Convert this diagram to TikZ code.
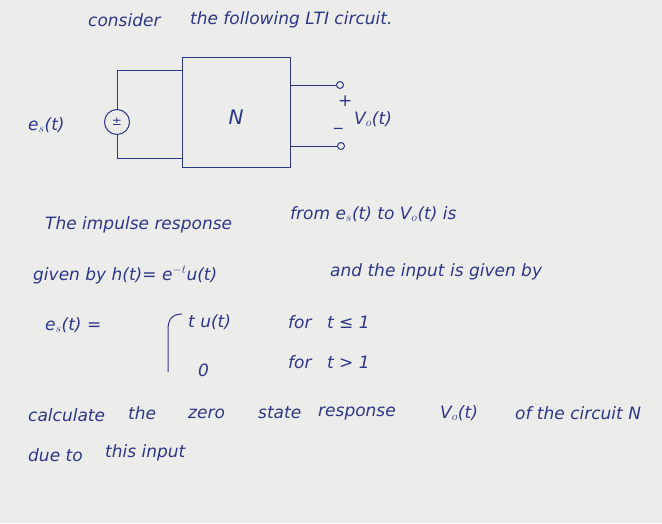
\documentclass[tikz,border=0pt]{standalone}
\usepackage{fontspec}
\setmainfont{DejaVu Sans}
\begin{document}
\begin{tikzpicture}[x=1pt,y=-1pt,
  ink/.style={draw=inkc,line width=1pt},
  txt/.style={text=inkc,anchor=west,inner sep=0pt,font=\fontsize{17}{19}\selectfont\itshape},
  term/.style={circle,draw=inkc,line width=1pt,inner sep=0pt,minimum size=7pt}]
\definecolor{inkc}{RGB}{45,55,135}
\definecolor{bg}{RGB}{236,236,234}
\fill[bg] (0,0) rectangle (662,523);
\useasboundingbox (0,0) rectangle (662,523);
\node[txt] (t0) at (88,20) {consider};
\node[txt] (t0b) at (190,20) {the following LTI circuit.};
% circuit
\node[draw=inkc,line width=1pt,minimum width=108pt,minimum height=110pt,inner sep=0pt] (N) at (236,112) {};
\node[text=inkc,font=\fontsize{20}{22}\selectfont\itshape] (Nl) at (236,117) {N};
\node[circle,draw=inkc,line width=1pt,minimum size=25pt,inner sep=0pt,text=inkc,font=\large] (src) at (117,122) {±};
\coordinate (tl) at (117,70); \coordinate (bl) at (117,158);
\draw[ink] (src.north) -- (tl) -- (tl -| N.west);
\draw[ink] (src.south) -- (bl) -- (bl -| N.west);
\node[txt] (es) at (28,125) {e$_s$(t)};
\node[term] (p1) at (340,85) {};
\node[term] (p2) at (341,146) {};
\draw[ink] (N.east |- p1) -- (p1);
\draw[ink] (N.east |- p2) -- (p2);
\node[txt] (plus) at (338,101) {+};
\node[txt] (minus) at (334,127) {\_};
\node[txt] (vo) at (354,119) {V$_o$(t)};
% text
\node[txt] (l1) at (45,225) {The impulse response};
\node[txt] (l1b) at (290,214) {from e$_s$(t) to V$_o$(t) is};
\node[txt] (l2) at (33,275) {given by h(t)= e$^{-t}$u(t)};
\node[txt] (l2b) at (330,272) {and the input is given by};
\node[txt] (l3) at (45,325) {e$_s$(t) =};
\draw[ink] (182,314) .. controls (170,314) and (168,322) .. (168,330) -- (168,372);
\node[txt] (l3a) at (188,322) {t u(t)};
\node[txt] (l3b) at (288,322) {for \; t ≤ 1};
\node[txt] (l4a) at (198,370) {0};
\node[txt] (l4b) at (288,362) {for \; t > 1};
\node[txt] (l5) at (28,415) {calculate};
\node[txt] (l5b) at (128,413) {the};
\node[txt] (l5c) at (188,414) {zero};
\node[txt] (l5d) at (258,413) {state};
\node[txt] (l5e) at (318,413) {response};
\node[txt] (l5f) at (440,413) {V$_o$(t)};
\node[txt] (l5g) at (515,413) {of the circuit N};
\node[txt] (l6) at (28,455) {due to};
\node[txt] (l6b) at (105,453) {this input};
\end{tikzpicture}
\end{document}
